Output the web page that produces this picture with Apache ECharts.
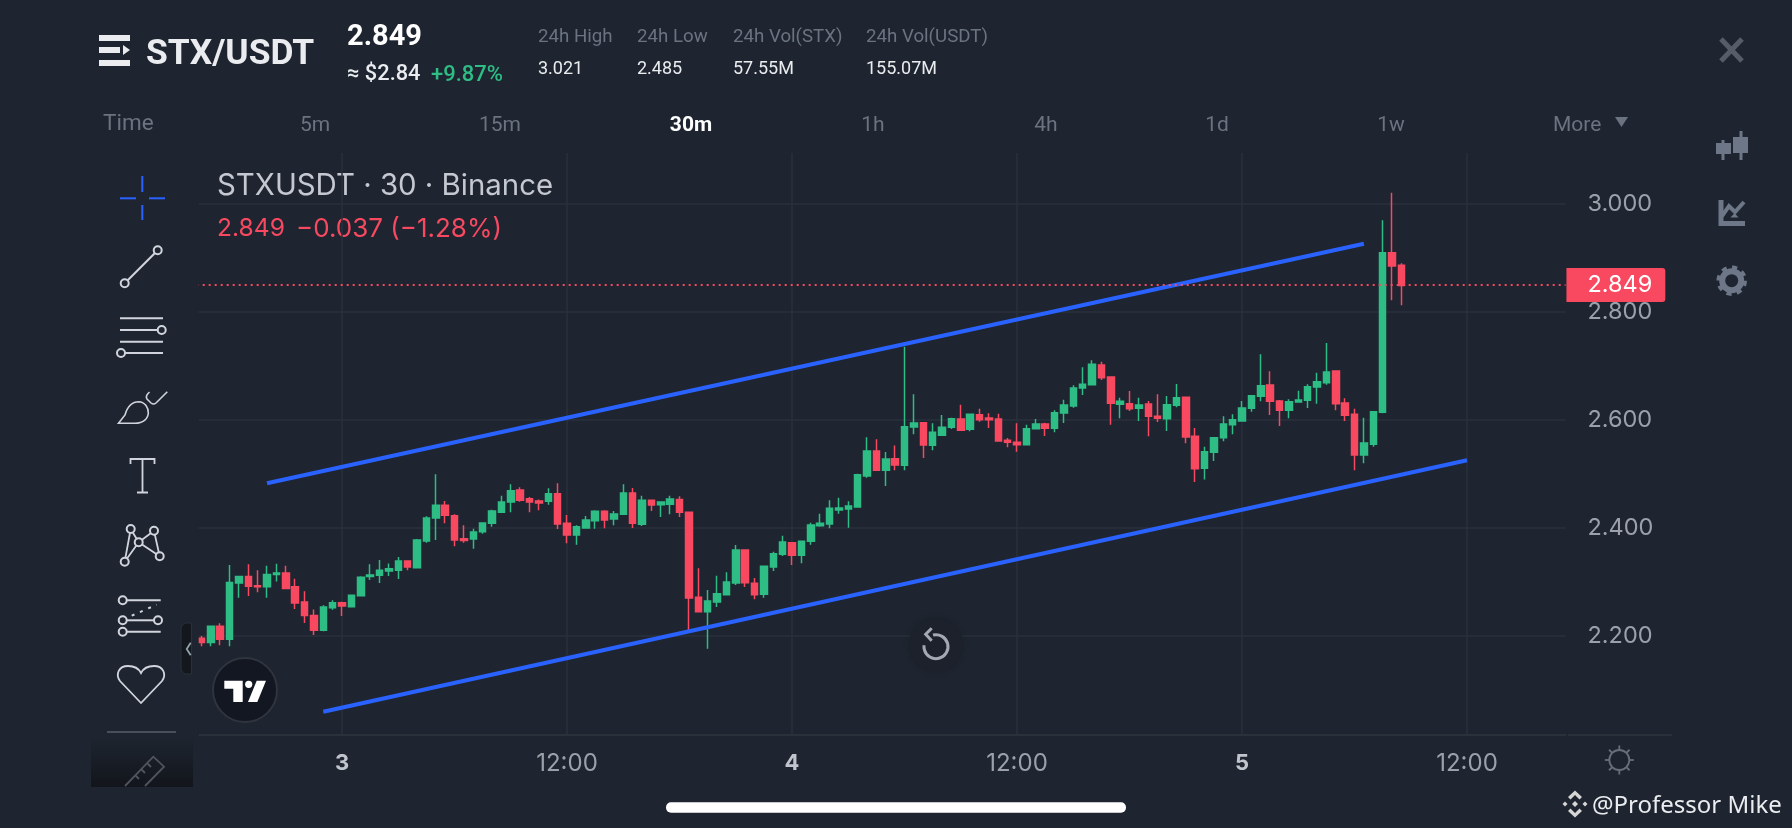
<!DOCTYPE html>
<html>
<head>
<meta charset="utf-8">
<title>STX/USDT</title>
<style>
    html, body { margin: 0; height: 100%; background: #1e2530; overflow: hidden; }
    #main { width: 1792px; height: 828px; }
</style>
<script src="https://cdn.jsdelivr.net/npm/echarts@6/dist/echarts.min.js"></script>
</head>
<body>
<div id="main"></div>
<script>
    // candle values, 30m bars
    var candleOpen = [
        2.196, 2.188, 2.218, 2.194, 2.298, 2.310, 2.293, 2.291, 2.314, 2.3166,
        2.291, 2.263, 2.238, 2.2105, 2.2525, 2.2617, 2.2543, 2.2747, 2.310, 2.3123,
        2.3204, 2.322, 2.3389, 2.3265, 2.3759, 2.4185, 2.442, 2.4228, 2.3802, 2.3796,
        2.3932, 2.4086, 2.429, 2.4481, 2.4703, 2.4543, 2.45, 2.4494, 2.4636, 2.4086,
        2.387, 2.4, 2.4136, 2.4308, 2.4166, 2.4253, 2.4648, 2.4068, 2.4512, 2.4432,
        2.4438, 2.453, 2.429, 2.2716, 2.245, 2.2629, 2.2765, 2.2981, 2.3592, 2.2975,
        2.2771, 2.3278, 2.3512, 2.3728, 2.3494, 2.3753, 2.4043, 2.4074, 2.4333, 2.4352,
        2.4389, 2.4963, 2.5426, 2.5068, 2.5284, 2.516, 2.587, 2.595, 2.5531, 2.5716,
        2.5864, 2.6018, 2.5827, 2.6098, 2.6037, 2.6018, 2.5623, 2.5586, 2.5543, 2.5839,
        2.5926, 2.5846, 2.6129, 2.6259, 2.6592, 2.6654, 2.7018, 2.6796, 2.629, 2.6302,
        2.6216, 2.6296, 2.6068, 2.6024, 2.6271, 2.6419, 2.5697, 2.5105, 2.5401, 2.5673,
        2.5913, 2.5981, 2.6216, 2.6438, 2.6648, 2.6352, 2.6179, 2.6333, 2.6364, 2.6611,
        2.6691, 2.6907, 2.6315, 2.6105, 2.5352, 2.5549, 2.6142, 2.9099, 2.8864
    ];
    var candleClose = [
        2.188, 2.218, 2.194, 2.299, 2.310, 2.292, 2.291, 2.314, 2.3166, 2.288,
        2.261, 2.238, 2.2105, 2.2537, 2.2617, 2.2555, 2.2753, 2.3086, 2.313, 2.322,
        2.3247, 2.3389, 2.3278, 2.3778, 2.4185, 2.442, 2.4234, 2.3778, 2.377, 2.3926,
        2.4092, 2.4315, 2.4481, 2.4691, 2.4512, 2.4481, 2.4463, 2.4636, 2.4074, 2.387,
        2.4024, 2.4148, 2.4308, 2.4148, 2.4259, 2.4648, 2.4086, 2.4512, 2.4426, 2.4481,
        2.4537, 2.429, 2.2703, 2.245, 2.2648, 2.2784, 2.3, 2.3592, 2.2987, 2.2765,
        2.329, 2.3524, 2.374, 2.3494, 2.3753, 2.4055, 2.4086, 2.4364, 2.437, 2.4407,
        2.4987, 2.5426, 2.5068, 2.5278, 2.5167, 2.5877, 2.5944, 2.5537, 2.5772, 2.5864,
        2.6024, 2.5809, 2.6105, 2.6006, 2.6006, 2.561, 2.5586, 2.5543, 2.5839, 2.5926,
        2.5846, 2.6136, 2.6278, 2.6592, 2.666, 2.703, 2.6784, 2.6308, 2.6345, 2.621,
        2.6278, 2.6068, 2.6031, 2.6284, 2.6413, 2.5685, 2.5098, 2.5414, 2.5673, 2.5926,
        2.6006, 2.6222, 2.645, 2.6636, 2.6346, 2.6179, 2.634, 2.637, 2.6617, 2.671,
        2.6889, 2.6302, 2.6086, 2.5352, 2.5574, 2.6154, 2.9099, 2.8852, 2.849
    ];
    var candleLow = [
        2.181, 2.181, 2.183, 2.181, 2.271, 2.274, 2.281, 2.271, 2.301, 2.288,
        2.25, 2.224, 2.202, 2.209, 2.2488, 2.237, 2.2537, 2.274, 2.3037, 2.298,
        2.311, 2.3055, 2.322, 2.3265, 2.3728, 2.3778, 2.4086, 2.366, 2.3728, 2.3617,
        2.3895, 2.4024, 2.429, 2.429, 2.4487, 2.429, 2.4327, 2.4432, 2.3981, 2.3716,
        2.3691, 2.4, 2.3987, 2.3994, 2.4049, 2.4253, 2.4, 2.4037, 2.4315, 2.4204,
        2.4253, 2.4204, 2.2111, 2.245, 2.1765, 2.2537, 2.2765, 2.2944, 2.2907, 2.2679,
        2.271, 2.3204, 2.3481, 2.3315, 2.3346, 2.3691, 2.4024, 2.3994, 2.4265, 2.4006,
        2.4389, 2.4932, 2.5068, 2.4778, 2.5068, 2.5068, 2.5734, 2.5296, 2.5438, 2.571,
        2.5833, 2.5796, 2.579, 2.5969, 2.5852, 2.5598, 2.5494, 2.5413, 2.5543, 2.5833,
        2.5704, 2.5772, 2.5944, 2.6228, 2.6463, 2.6654, 2.674, 2.5913, 2.6031, 2.6167,
        2.5981, 2.5697, 2.5963, 2.5796, 2.6234, 2.5568, 2.4852, 2.49, 2.524, 2.5605,
        2.5734, 2.5981, 2.6154, 2.6346, 2.6092, 2.5889, 2.6031, 2.6333, 2.6222, 2.6302,
        2.6654, 2.6179, 2.5981, 2.5068, 2.5198, 2.5506, 2.6123, 2.8216, 2.8123
    ];
    var candleHigh = [
        2.2, 2.218, 2.2235, 2.3315, 2.311, 2.333, 2.322, 2.33, 2.334, 2.33,
        2.306, 2.283, 2.249, 2.257, 2.266, 2.2636, 2.277, 2.3105, 2.333, 2.3407,
        2.3345, 2.3463, 2.3389, 2.3796, 2.4216, 2.4994, 2.45, 2.4253, 2.4049, 2.3987,
        2.4105, 2.434, 2.4599, 2.4808, 2.4753, 2.4574, 2.453, 2.4734, 2.4827, 2.424,
        2.4049, 2.4222, 2.4327, 2.4327, 2.4315, 2.4808, 2.4741, 2.4599, 2.453, 2.4487,
        2.4599, 2.4586, 2.4302, 2.3253, 2.2852, 2.3117, 2.3179, 2.3685, 2.3605, 2.3074,
        2.3302, 2.3561, 2.3858, 2.3728, 2.3765, 2.4098, 2.4265, 2.4512, 2.4562, 2.4494,
        2.5006, 2.5679, 2.5642, 2.5407, 2.553, 2.7358, 2.6475, 2.595, 2.5938, 2.6092,
        2.6043, 2.6284, 2.6105, 2.621, 2.6123, 2.6117, 2.5666, 2.5938, 2.5913, 2.6018,
        2.595, 2.6179, 2.6376, 2.6642, 2.6975, 2.7105, 2.708, 2.6796, 2.6413, 2.6537,
        2.6413, 2.6352, 2.6475, 2.6444, 2.6666, 2.6432, 2.5852, 2.5506, 2.5673, 2.6068,
        2.6105, 2.6352, 2.645, 2.7216, 2.6901, 2.637, 2.6383, 2.6543, 2.666, 2.6876,
        2.7426, 2.6919, 2.6401, 2.621, 2.6043, 2.6167, 2.9697, 3.021, 2.8901
    ];

    var lastPrice = 2.849;
    var yTicks = [2.2, 2.4, 2.6, 2.8, 3.0];
    var yMin = 2.0167;
    var yMax = 3.0944;

    // tick labels by slot index, the slots after the last candle stay empty
    var slotCount = 146;
    var xTickLabels = { 15: '3', 39: '12:00', 63: '4', 87: '12:00', 111: '5', 135: '12:00' };

    // channel lines: [slot, price]
    var upperChannel = [[7, 2.4828], [124, 2.9265]];
    var lowerChannel = [[13, 2.0598], [135, 2.5254]];

    var colBg = '#1e2530';
    var colUp = '#2ebd85';
    var colDown = '#f84960';
    var colBlue = '#2962ff';
    var colGrid = '#2b313b';
    var colMuted = '#6b7380';
    var colTool = '#d1d4dc';
    var colIcon = '#6d7787';

    var categories = [];
    for (var s = 0; s < slotCount; s++) {
        categories.push(xTickLabels[s] || String(s));
    }
    var candles = candleOpen.map(function (o, i) {
        return [o, candleClose[i], candleLow[i], candleHigh[i]];
    });

    function isTickSlot(index) {
        return xTickLabels[index] !== undefined;
    }

    var sans = 'Roboto, sans-serif';
    var tvFont = 'Inter, sans-serif';

    function txt(str, x, y, font, fill, align) {
        return {
            type: 'text', silent: true,
            style: { text: str, x: x, y: y, font: font, fill: fill, align: align || 'left', verticalAlign: 'middle' }
        };
    }
    function seg(x1, y1, x2, y2, color, width, dash) {
        return {
            type: 'line', silent: true,
            shape: { x1: x1, y1: y1, x2: x2, y2: y2 },
            style: { stroke: color, lineWidth: width || 2, lineDash: dash || null }
        };
    }
    function ring(cx, cy, r, color, width, fill) {
        return {
            type: 'circle', silent: true,
            shape: { cx: cx, cy: cy, r: r },
            style: { stroke: color, lineWidth: width || 2, fill: fill || colBg }
        };
    }
    function box(x, y, w, h, fill, radius) {
        return {
            type: 'rect', silent: true,
            shape: { x: x, y: y, width: w, height: h, r: radius || 0 },
            style: { fill: fill }
        };
    }
    function poly(points, fill) {
        return { type: 'polygon', silent: true, shape: { points: points }, style: { fill: fill } };
    }
    // the graphic component has no plain path type, so each icon outline gets its own shape
    var pathCount = 0;
    function pathEl(d, stroke, width, fill) {
        var name = 'decoPath' + (pathCount++);
        echarts.graphic.registerShape(name, echarts.graphic.extendPath(d, {}));
        return {
            type: name, silent: true,
            style: { stroke: stroke, lineWidth: width, fill: fill || 'none' }
        };
    }

    var deco = [];

    // header
    deco.push(box(99, 35, 31, 6, '#eaecef'), box(99, 47, 21, 6, '#eaecef'), box(99, 60, 31, 6, '#eaecef'));
    deco.push(poly([[123, 45], [130, 50], [123, 55]], '#eaecef'));
    deco.push(txt('STX/USDT', 146, 55, 'bold 35.4px ' + sans, '#eaecef'));
    deco.push(txt('2.849', 347, 38, 'bold 29px ' + sans, '#ffffff'));
    deco.push(txt('≈ $2.84', 347, 75, '500 21.8px ' + sans, '#eaecef'));
    deco.push(txt('+9.87%', 431, 75, '500 22px ' + sans, colUp));
    var stats = [
        ['24h High', '3.021', 538], ['24h Low', '2.485', 637],
        ['24h Vol(STX)', '57.55M', 733], ['24h Vol(USDT)', '155.07M', 866]
    ];
    stats.forEach(function (st) {
        deco.push(txt(st[0], st[2], 37, '18.7px ' + sans, colMuted));
        deco.push(txt(st[1], st[2], 69, '18px ' + sans, '#eaecef'));
    });

    // interval row
    deco.push(txt('Time', 103, 124, '22.5px ' + sans, colMuted));
    var intervals = [['5m', 315], ['15m', 500], ['30m', 691], ['1h', 873], ['4h', 1046], ['1d', 1217], ['1w', 1391]];
    intervals.forEach(function (it) {
        var on = it[0] === '30m';
        deco.push(txt(it[0], it[1], 126, (on ? 'bold ' : '') + '21px ' + sans, on ? '#ffffff' : colMuted, 'center'));
    });
    deco.push(txt('More', 1553, 126, '21px ' + sans, colMuted));
    deco.push(poly([[1615, 117], [1628, 117], [1621.5, 127]], colMuted));

    // chart title
    deco.push(txt('STXUSDT · 30 · Binance', 217, 186, '29.4px ' + tvFont, '#c5c8d0'));
    deco.push(txt('2.849', 217, 229, '24.6px ' + tvFont, colDown));
    deco.push(txt('−0.037 (−1.28%)', 296, 229, '26px ' + tvFont, colDown));

    // right hand icons
    deco.push(seg(1721, 39, 1742, 61, '#565d69', 5), seg(1742, 39, 1721, 61, '#565d69', 5));
    deco.push(box(1716, 143, 15, 11, colIcon), box(1721.5, 140, 3, 20, colIcon));
    deco.push(box(1733, 137, 15, 16, colIcon), box(1739.5, 131, 3, 29, colIcon));
    deco.push(pathEl('M1721,200 L1721,223.5 L1745,223.5', colIcon, 5));
    deco.push(pathEl('M1722,216 L1729,206 L1735,212 L1744,202', colIcon, 4));
    deco.push(poly([[1730.5, 217.5], [1738.5, 217.5], [1734.5, 213]], colIcon));
    deco.push({
        type: 'circle', silent: true, shape: { cx: 1731.7, cy: 280.7, r: 9.5 },
        style: { stroke: colIcon, lineWidth: 6, fill: 'none' }
    });
    deco.push({
        type: 'circle', silent: true, shape: { cx: 1731.7, cy: 280.7, r: 13 },
        style: { stroke: colIcon, lineWidth: 4.5, fill: 'none', lineDash: [5, 5.2] }
    });

    // drawing tools on the left
    var cx0 = 142.3, cy0 = 198.3;
    deco.push(seg(cx0, 176, cx0, 192, colBlue), seg(cx0, 205, cx0, 220, colBlue));
    deco.push(seg(120, cy0, 136, cy0, colBlue), seg(149, cy0, 165, cy0, colBlue));

    deco.push(seg(124.7, 283.3, 157.7, 250.3, colTool), ring(157.7, 250.3, 4, colTool), ring(124.7, 283.3, 4, colTool));

    deco.push(seg(120, 318.3, 163, 318.3, colTool), seg(120, 330, 158, 330, colTool), ring(161.7, 330, 4, colTool));
    deco.push(seg(120, 341.7, 163, 341.7, colTool), seg(125, 353, 163, 353, colTool), ring(121, 353, 4, colTool));

    deco.push(pathEl('M118.5,423.3 L125,415 C128,404 134,401.7 139,401.7 C145,402 148.5,408 148.3,413 C148,419 143,423.3 135,423.3 Z', colTool, 1.6));
    deco.push(pathEl('M149.5,392 Q145,396 147,399 L151,403 Q153.5,405 156,403 L167.3,391.7', colTool, 1.6));

    deco.push(pathEl('M130.5,464 L130.5,459 L154.5,459 L154.5,464 M142.5,459 L142.5,492.5 M137,492.5 L148,492.5', colTool, 1.8));

    deco.push(pathEl('M124.7,561.7 L130.7,529 L138.7,542.3 L124.7,561.7 M138.7,542.3 L154,530.7 L159.7,556.3 L138.7,542.3', colTool, 1.8));
    [[130.7, 529], [154, 530.7], [138.7, 542.3], [124.7, 561.7], [159.7, 556.3]].forEach(function (p) {
        deco.push(ring(p[0], p[1], 4, colTool));
    });

    deco.push(seg(126, 600.3, 160.7, 600.3, colTool), seg(126, 620.3, 155, 620.3, colTool), seg(126, 631.7, 160.7, 631.7, colTool));
    deco.push(ring(122.7, 600.3, 4, colTool), ring(122.7, 620.3, 4, colTool), ring(158, 620.3, 4, colTool), ring(122.7, 631.7, 4, colTool));
    deco.push(seg(131.7, 615.7, 156.7, 604.7, colTool, 2, [3, 6]));

    deco.push(pathEl('M141,703 L120,681 C115,674 119,666 128,666 C134,666 139,669 141,673 C143,669 148,666 154,666 C163,666 167,674 162,681 Z', colTool, 1.8));

    deco.push(seg(107, 732, 176, 732, '#4a4f59', 2));
    deco.push({
        type: 'rect', silent: true,
        shape: { x: 91, y: 737, width: 102, height: 50 },
        style: {
            fill: { type: 'linear', x: 0, y: 0, x2: 0, y2: 1, colorStops: [{ offset: 0, color: colBg }, { offset: 1, color: '#12151b' }] }
        }
    });
    deco.push(pathEl('M125,786 L153.3,756.7 L164,766.7 L145,786 M147,763 L151,767 M141,769 L145,773 M135,775 L139,779', '#4f545e', 1.8));

    // side tab
    deco.push(pathEl('M191.5,623 L187,623 C183,623 181,626 181,630 L181,667 C181,671 183,674 187,674 L191.5,674 Z', '#2b313b', 1, '#14171d'));
    deco.push(pathEl('M190.7,642.7 L186.7,649 L190.7,655.3', '#8fa3ad', 1.8));

    // tradingview badge
    deco.push(ring(245, 690, 32, '#2f343e', 2, '#131722'));
    deco.push(poly([[224.3, 680.7], [242.7, 680.7], [242.7, 702], [233.3, 702], [233.3, 688.7], [224.3, 688.7]], '#ffffff'));
    deco.push({ type: 'circle', silent: true, shape: { cx: 248.7, cy: 684.3, r: 3.6 }, style: { fill: '#ffffff' } });
    deco.push(poly([[256.7, 680.7], [266, 680.7], [257.3, 702], [248, 702]], '#ffffff'));

    // reset button
    deco.push({
        type: 'circle', silent: true, z: 20, shape: { cx: 936, cy: 645, r: 27 },
        style: { fill: '#1c212b', shadowBlur: 8, shadowColor: 'rgba(0,0,0,0.18)' }
    });
    deco.push({
        type: 'arc', silent: true, z: 21,
        shape: { cx: 936, cy: 646.7, r: 12, startAngle: -Math.PI / 2 - 0.25, endAngle: Math.PI * 1.04, clockwise: true },
        style: { stroke: '#a4a8b3', lineWidth: 3, fill: 'none' }
    });
    var resetArrow = pathEl('M931.7,628.3 L925.7,634.3 L931.7,640.7', '#a4a8b3', 3);
    resetArrow.z = 21;
    deco.push(resetArrow);

    // gridlines and the price line start a little right of the plot edge
    var trim = box(195, 150, 3.7, 586, colBg);
    trim.z = 6;
    deco.push(trim);

    // bottom strip
    deco.push(seg(1568, 735, 1672, 735, colGrid, 2));
    deco.push({
        type: 'circle', silent: true, shape: { cx: 1619.3, cy: 760, r: 10 },
        style: { stroke: '#686f7b', lineWidth: 1.8, fill: 'none' }
    });
    for (var r = 0; r < 8; r++) {
        var ang = r * Math.PI / 4;
        deco.push(seg(1619.3 + 10 * Math.cos(ang), 760 + 10 * Math.sin(ang), 1619.3 + 14.5 * Math.cos(ang), 760 + 14.5 * Math.sin(ang), '#686f7b', 1.8));
    }
    deco.push(box(666, 802.3, 460, 10.4, '#ffffff', 5));
    deco.push(poly([[1575, 790.5], [1582, 797], [1579.5, 799.5], [1575, 795], [1570.5, 799.5], [1568, 797]], '#d6d6d6'));
    deco.push(poly([[1575, 817.5], [1582, 811], [1579.5, 808.5], [1575, 813], [1570.5, 808.5], [1568, 811]], '#d6d6d6'));
    deco.push(poly([[1575, 801], [1578, 804], [1575, 807], [1572, 804]], '#d6d6d6'));
    deco.push(poly([[1565, 801.5], [1567.5, 804], [1565, 806.5], [1562.5, 804]], '#d6d6d6'));
    deco.push(poly([[1585, 801.5], [1587.5, 804], [1585, 806.5], [1582.5, 804]], '#d6d6d6'));
    deco.push(txt('@Professor Mike', 1592, 806, '24px "Noto Sans", sans-serif', '#eaecef'));

    var myChart = echarts.init(document.getElementById('main'));
    myChart.setOption({
        animation: false,
        backgroundColor: colBg,
        grid: { left: 196.7, top: 153, width: 1368.75, height: 582, containLabel: false },
        xAxis: {
            type: 'category',
            data: categories,
            axisLine: { lineStyle: { color: colGrid, width: 2 } },
            axisTick: { show: false },
            axisLabel: {
                interval: function (index) { return isTickSlot(index); },
                margin: 17,
                formatter: function (val) {
                    return val.length === 1 ? '{day|' + val + '}' : val;
                },
                color: '#9ba0aa',
                fontFamily: 'Inter',
                fontSize: 24,
                rich: { day: { color: '#c0c4cc', fontFamily: 'Inter', fontSize: 22, fontWeight: 'bold' } }
            },
            splitLine: {
                show: true,
                alignWithLabel: true,
                interval: function (index) { return isTickSlot(index); },
                lineStyle: { color: colGrid, width: 1.5 }
            }
        },
        yAxis: {
            type: 'value',
            position: 'right',
            min: yMin,
            max: yMax,
            axisLine: { show: false },
            axisTick: { show: false, customValues: yTicks },
            axisLabel: {
                customValues: yTicks,
                margin: 22,
                align: 'left',
                color: '#9ba0aa',
                fontFamily: 'Inter',
                fontSize: 23.5,
                formatter: function (v) { return v.toFixed(3); }
            },
            splitLine: { show: true, lineStyle: { color: colGrid, width: 1.5 } }
        },
        series: [{
            type: 'candlestick',
            data: candles,
            barWidth: 7,
            itemStyle: {
                color: colUp,
                color0: colDown,
                borderColor: colUp,
                borderColor0: colDown,
                borderWidth: 1.5
            },
            markLine: {
                silent: true,
                symbol: 'none',
                animation: false,
                lineStyle: { color: colDown, width: 2, type: [2, 4] },
                label: {
                    position: 'end',
                    distance: 1,
                    color: '#ffffff',
                    fontFamily: 'Inter',
                    fontSize: 23.5,
                    padding: [5, 13, 5, 21],
                    backgroundColor: colDown,
                    borderRadius: [0, 3, 3, 0],
                    formatter: function () { return lastPrice.toFixed(3); }
                },
                data: [{ yAxis: lastPrice }]
            }
        }, {
            type: 'line',
            data: upperChannel,
            symbol: 'none',
            silent: true,
            lineStyle: { color: colBlue, width: 4 }
        }, {
            type: 'line',
            data: lowerChannel,
            symbol: 'none',
            silent: true,
            lineStyle: { color: colBlue, width: 4 }
        }],
        graphic: deco
    });
</script>
</body>
</html>
